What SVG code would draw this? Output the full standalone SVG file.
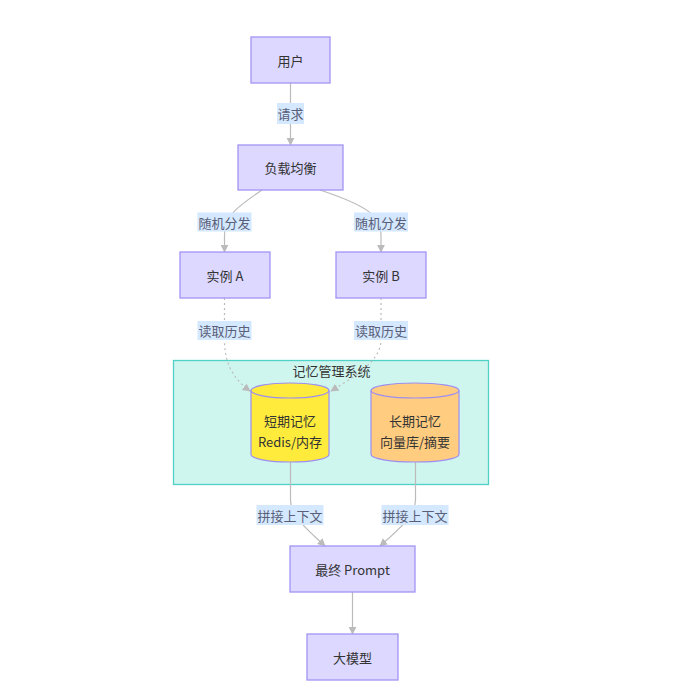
<svg xmlns="http://www.w3.org/2000/svg" width="683" height="694" viewBox="0 0 683 694">
<style>
text{font-family:"Noto Sans CJK SC","Liberation Sans",sans-serif;font-size:13px;text-anchor:middle;dominant-baseline:central;fill:#333}
.node rect{fill:#dcd8ff;stroke:#a394f5;stroke-width:1.3}
.edge{fill:none;stroke:#bbbbbb;stroke-width:1.2}
.dash{stroke-dasharray:2 3}
.lbl{fill:#d4e8ff}
.ltxt{fill:#5a5e78}
</style>
<defs>
<marker id="arr" viewBox="0 0 10 10" refX="9" refY="5" markerWidth="8" markerHeight="8" orient="auto-start-reverse" markerUnits="userSpaceOnUse">
<path d="M0,0 L10,5 L0,10 z" fill="#bbbbbb"/>
</marker>
</defs>
<rect width="683" height="694" fill="#ffffff"/>
<g id="cluster-memory">
<rect x="173.5" y="360.5" width="315" height="124" fill="#cff5ef" stroke="#4fd1c5" stroke-width="1.3"/>
<text x="331.5" y="370">记忆管理系统</text>
</g>
<g id="connectors">
<path class="edge" d="M290.5,83 L290.5,145" marker-end="url(#arr)"/>
<path class="edge" d="M262,190 C240,205 224.5,215 224.5,235 L224.5,252" marker-end="url(#arr)"/>
<path class="edge" d="M320,190 C365,205 381,215 381,235 L381,252" marker-end="url(#arr)"/>
<path class="edge dash" d="M224.5,298 L224.5,340 C224.5,362 232,378 250,391" marker-end="url(#arr)"/>
<path class="edge dash" d="M381,298 L381,340 C381,362 352,378 331,391" marker-end="url(#arr)"/>
<path class="edge" d="M290.5,462 L290.5,500 C290.5,516 310,532 325,546" marker-end="url(#arr)"/>
<path class="edge" d="M415.5,462 L415.5,500 C415.5,516 396,532 380,546" marker-end="url(#arr)"/>
<path class="edge" d="M352.5,592 L352.5,634" marker-end="url(#arr)"/>
<rect class="lbl" x="277" y="103" width="27" height="21"/>
<text class="ltxt" x="290.5" y="113.5">请求</text>
<rect class="lbl" x="197.5" y="212.5" width="54" height="19"/>
<text class="ltxt" x="224.5" y="222">随机分发</text>
<rect class="lbl" x="354" y="212.5" width="54" height="19"/>
<text class="ltxt" x="381" y="222">随机分发</text>
<rect class="lbl" x="197.5" y="321" width="54" height="19"/>
<text class="ltxt" x="224.5" y="330.5">读取历史</text>
<rect class="lbl" x="354" y="321" width="54" height="19"/>
<text class="ltxt" x="381" y="330.5">读取历史</text>
<rect class="lbl" x="256.5" y="505" width="67" height="20"/>
<text class="ltxt" x="290" y="515">拼接上下文</text>
<rect class="lbl" x="381.5" y="505" width="67" height="20"/>
<text class="ltxt" x="415" y="515">拼接上下文</text>
</g>
<g id="user" class="node"><rect x="251" y="37" width="79" height="46"/><text x="290.5" y="60">用户</text></g>
<g id="lb" class="node"><rect x="238" y="145" width="105" height="45"/><text x="290.5" y="167.5">负载均衡</text></g>
<g id="instA" class="node"><rect x="180" y="252" width="90" height="46"/><text x="225" y="275">实例 A</text></g>
<g id="instB" class="node"><rect x="336" y="252" width="90" height="46"/><text x="381" y="275">实例 B</text></g>
<g id="shortMem">
<path d="M251,390.5 A39,7.5 0 0 1 329,390.5 L329,454.5 A39,7.5 0 0 1 251,454.5 Z" fill="#ffeb3b" stroke="#9c8ef0" stroke-width="1.2"/>
<path d="M251,390.5 A39,7.5 0 0 0 329,390.5" fill="none" stroke="#9c8ef0" stroke-width="1.2"/>
<text x="290" y="420.5">短期记忆</text>
<text x="290" y="441.5">Redis/内存</text>
</g>
<g id="longMem">
<path d="M371,390.5 A44,7.5 0 0 1 459,390.5 L459,454.5 A44,7.5 0 0 1 371,454.5 Z" fill="#ffcc80" stroke="#9c8ef0" stroke-width="1.2"/>
<path d="M371,390.5 A44,7.5 0 0 0 459,390.5" fill="none" stroke="#9c8ef0" stroke-width="1.2"/>
<text x="415" y="420.5">长期记忆</text>
<text x="415" y="441.5">向量库/摘要</text>
</g>
<g id="prompt" class="node"><rect x="290" y="546" width="125" height="46"/><text x="352.5" y="569">最终 Prompt</text></g>
<g id="llm" class="node"><rect x="307" y="634" width="91" height="46"/><text x="352.5" y="657">大模型</text></g>
</svg>
